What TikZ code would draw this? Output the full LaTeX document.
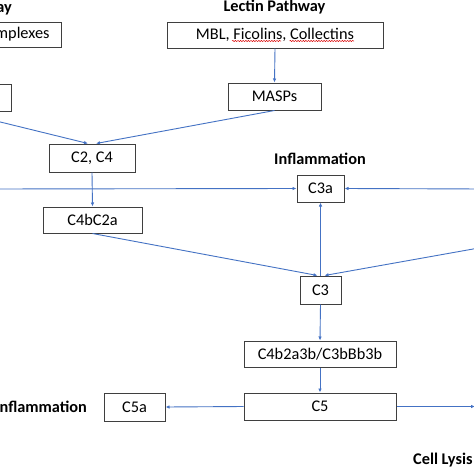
\documentclass[tikz,border=0pt]{standalone}
\usepackage{fontspec}
\setmainfont{Carlito}
\usetikzlibrary{arrows.meta,decorations.pathmorphing}
\definecolor{lineblue}{HTML}{4472C4}
\definecolor{boxgray}{HTML}{3F3F3F}
\begin{document}
\begin{tikzpicture}[x=1pt,y=-1pt,
  font=\fontsize{16.3}{19}\selectfont,
  box/.style={draw=boxgray,line width=1pt,inner sep=0pt,align=center},
  title/.style={font=\fontsize{16.3}{19}\selectfont\bfseries,inner sep=0pt},
  conn/.style={draw=lineblue,line width=0.9pt,-{Latex[length=4pt,width=3.5pt]}},
  spell/.style={draw=red!85!black,line width=0.5pt,decorate,decoration={snake,amplitude=0.6pt,segment length=2.6pt}}]
\useasboundingbox (0,0) rectangle (474,474);
\fill[white] (0,0) rectangle (474,474);
\clip (0,0) rectangle (474,474);

% titles
\node[title,anchor=east] (tclass) at (12,8) {Classical Pathway};
\node[title] (tlectin) at (274.5,7) {Lectin Pathway};
\node[title] (tinfl1) at (320,159) {Inflammation};
\node[title,anchor=east] (tinfl2) at (87,407) {Inflammation};
\node[title,anchor=west] (tlysis) at (413,460) {Cell Lysis};

% boxes
\node[box,anchor=east,minimum height=25pt,inner xsep=12pt] (imm) at (62,34.5) {Immune Complexes};
\node[box,anchor=east,minimum width=108pt,minimum height=27pt] (c1) at (12,97.5) {};
\node[box,minimum width=216pt,minimum height=26pt] (mbl) at (275,35) {MBL, Ficolins, Collectins};
\node[box,minimum width=93pt,minimum height=27pt] (masps) at (274.5,96.5) {MASPs};
\node[box,minimum width=86pt,minimum height=28pt] (c2c4) at (92,158) {C2, C4};
\node[box,minimum width=99pt,minimum height=26pt] (c4bc2a) at (92.5,220) {C4bC2a};
\node[box,minimum width=47pt,minimum height=27pt] (c3a) at (320.5,188.5) {C3a};
\node[box,minimum width=41pt,minimum height=28pt] (c3) at (320.5,290) {C3};
\node[box,minimum width=152pt,minimum height=26pt] (c4b) at (320,354) {C4b2a3b/C3bBb3b};
\node[box,minimum width=152pt,minimum height=27pt] (c5) at (320,406.5) {C5};
\node[box,minimum width=61pt,minimum height=28pt] (c5a) at (134.5,407) {C5a};

% spell-check marks
\draw[spell] (232,41) -- (281,41);
\draw[spell] (289.5,41) -- (354,41);

% free ends
\coordinate (altL) at (-10,189);
\coordinate (altR) at (484,189);
\coordinate (altD) at (490,246);
\coordinate (lysR) at (475,406.5);

% connectors
\draw[conn] (mbl.south) -- (masps.north);
\draw[conn] (c1.south) -- ([xshift=-4pt]c2c4.north);
\draw[conn] (masps.south) -- ([xshift=4pt]c2c4.north);
\draw[conn] (c2c4.south) -- (c4bc2a.north);
\draw[conn] (altL) -- (c3a.west);
\draw[conn] (altR) -- (c3a.east);
\draw[conn] (c4bc2a.south) -- ([xshift=-3pt]c3.north);
\draw[conn] (altD) -- ([xshift=4pt]c3.north);
\draw[conn] (c3.north) -- (c3a.south);
\draw[conn] (c3.south) -- (c4b.north);
\draw[conn] (c4b.south) -- (c5.north);
\draw[conn] (c5.west) -- (c5a.east);
\draw[conn] (c5.east) -- (lysR);
\end{tikzpicture}
\end{document}
